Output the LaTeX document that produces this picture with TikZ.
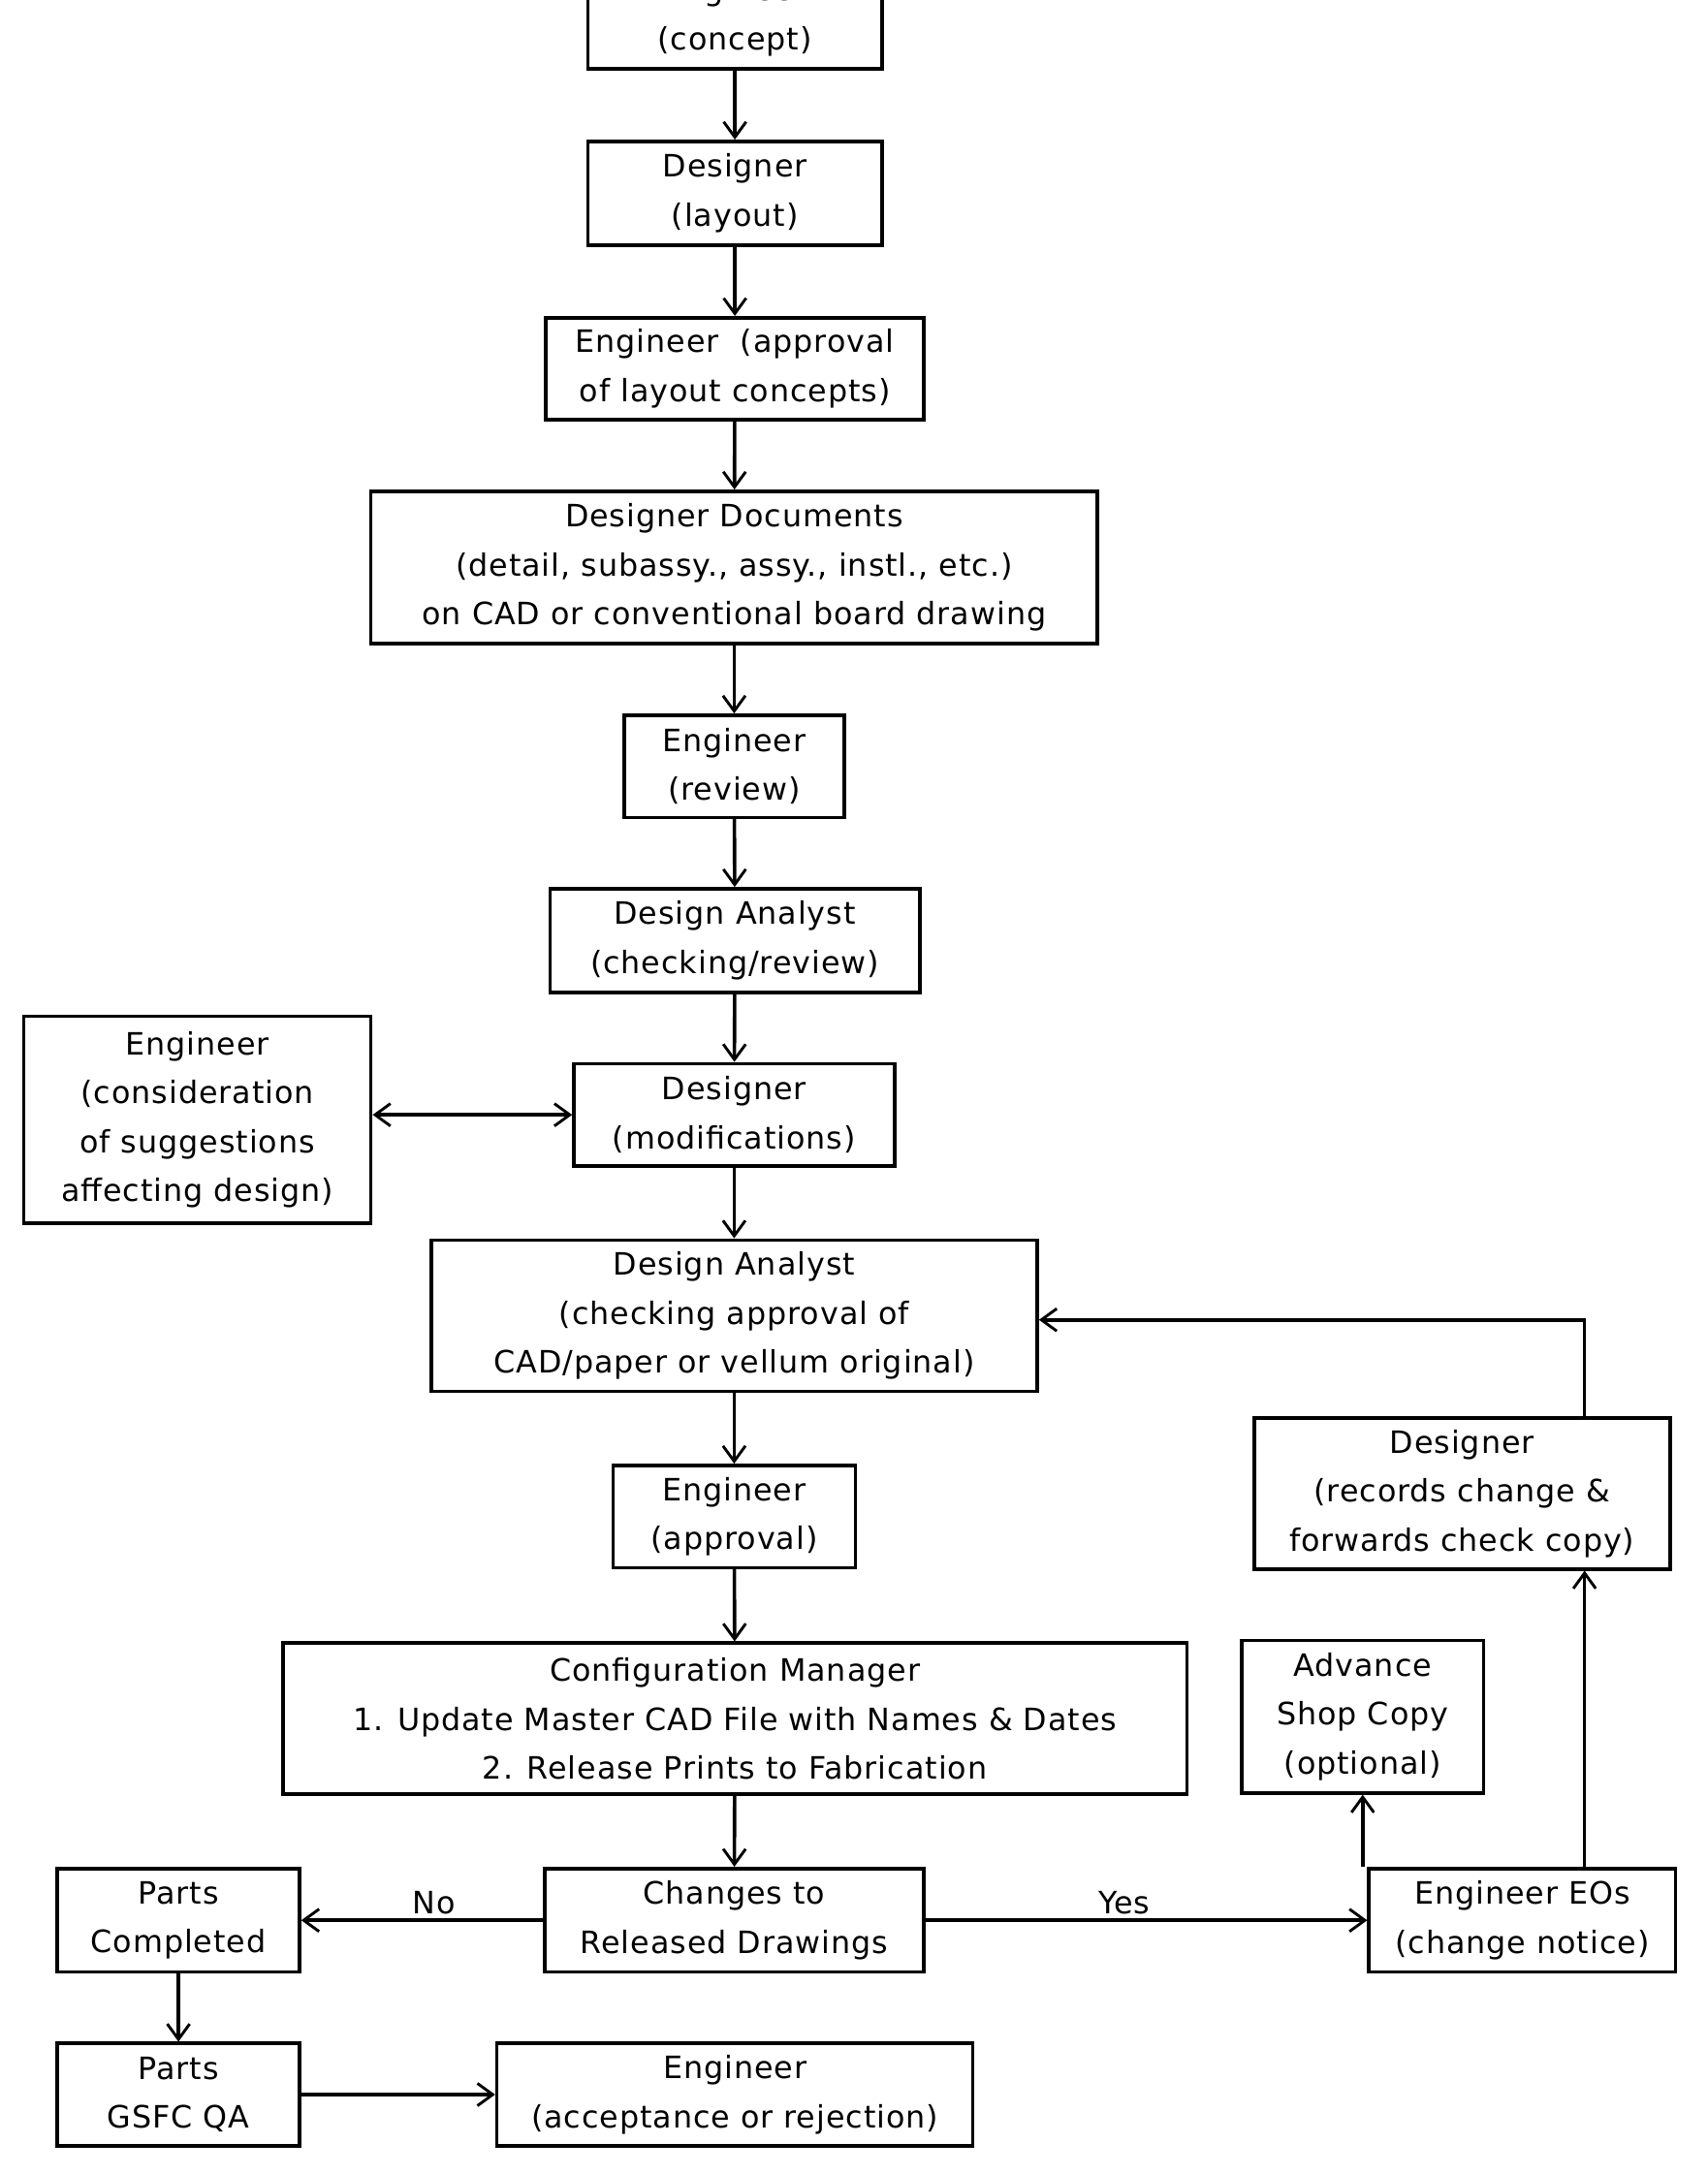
\documentclass[tikz,border=0pt]{standalone}
\usepackage{fontspec}
\setmainfont{DejaVu Sans}[LetterSpace=3]
\usetikzlibrary{arrows.meta}
\begin{document}
\begin{tikzpicture}[x=1pt,y=-1pt,
  box/.style={draw,line width=2.5pt,inner sep=0pt,align=center,font=\fontsize{22}{35}\selectfont},
  conn/.style={line width=2.5pt,-{Straight Barb[length=11pt,width=16pt,line width=2pt]}},
  dconn/.style={line width=2.5pt,{Straight Barb[length=11pt,width=16pt,line width=2pt]}-{Straight Barb[length=11pt,width=16pt,line width=2pt]}},
  lbl/.style={font=\fontsize{22}{35}\selectfont}]
\useasboundingbox (0,0) rectangle (1220,1554);
\clip (0,0) rectangle (1220,1554);
\node[box,minimum width=210,minimum height=74] (n1) at (525,12) {Engineer\\(concept)};
\node[box,minimum width=210,minimum height=74] (n2) at (525,138) {Designer\\(layout)};
\node[box,minimum width=270,minimum height=73] (n3) at (525,263.5) {Engineer\ \ (approval\\of layout concepts)};
\node[box,minimum width=519,minimum height=109] (n4) at (524.5,405.5) {Designer Documents\\(detail, subassy., assy., instl., etc.)\\on CAD or conventional board drawing};
\node[box,minimum width=157,minimum height=73] (n5) at (524.5,547.5) {Engineer\\(review)};
\node[box,minimum width=264,minimum height=74] (n6) at (525,672) {Design Analyst\\(checking/review)};
\node[box,minimum width=248,minimum height=148] (n7) at (141,800) {Engineer\\(consideration\\of suggestions\\affecting design)};
\node[box,minimum width=229,minimum height=73] (n8) at (524.5,796.5) {Designer\\(modifications)};
\node[box,minimum width=433,minimum height=108] (n9) at (524.5,940) {Design Analyst\\(checking approval of\\CAD/paper or vellum original)};
\node[box,minimum width=173,minimum height=73] (n10) at (524.5,1083.5) {Engineer\\(approval)};
\node[box,minimum width=646,minimum height=108] (n11) at (525,1228) {Configuration Manager\\1. Update Master CAD File with Names \& Dates\\2. Release Prints to Fabrication};
\node[box,minimum width=271,minimum height=74] (n12) at (524.5,1372) {Changes to\\Released Drawings};
\node[box,minimum width=173,minimum height=74] (n13) at (127.5,1372) {Parts\\Completed};
\node[box,minimum width=173,minimum height=73] (n14) at (127.5,1496.5) {Parts\\GSFC QA};
\node[box,minimum width=340,minimum height=73] (n15) at (525,1496.5) {Engineer\\(acceptance or rejection)};
\node[box,minimum width=219,minimum height=74] (n16) at (1087.5,1372) {Engineer EOs\\(change notice)};
\node[box,minimum width=173,minimum height=109] (n17) at (973.5,1226.5) {Advance\\Shop Copy\\(optional)};
\node[box,minimum width=297,minimum height=108] (n18) at (1044.5,1067) {Designer\\(records change \&\\forwards check copy)};
\draw[conn] (n1) -- (n2);
\draw[conn] (n2) -- (n3);
\draw[conn] (n3) -- (n4);
\draw[conn] (n4) -- (n5);
\draw[conn] (n5) -- (n6);
\draw[conn] (n6) -- (n8);
\draw[conn] (n8) -- (n9);
\draw[conn] (n9) -- (n10);
\draw[conn] (n10) -- (n11);
\draw[conn] (n11) -- (n12);
\draw[dconn] (n7.east|-n8) -- (n8);
\draw[conn] (n12) -- node[lbl,above,pos=0.45] {No} (n13);
\draw[conn] (n12) -- node[lbl,above,pos=0.45] {Yes} (n16);
\draw[conn] (n13) -- (n14);
\draw[conn] (n14) -- (n15);
\draw[conn] (n16.north-|n17) -- (n17);
\draw[conn] (n16.north-|1132,0) -- (n18.south-|1132,0);
\draw[conn] (n18.north-|1132,0) -- (1132,943) -- (n9.east|-0,943);
\end{tikzpicture}
\end{document}
